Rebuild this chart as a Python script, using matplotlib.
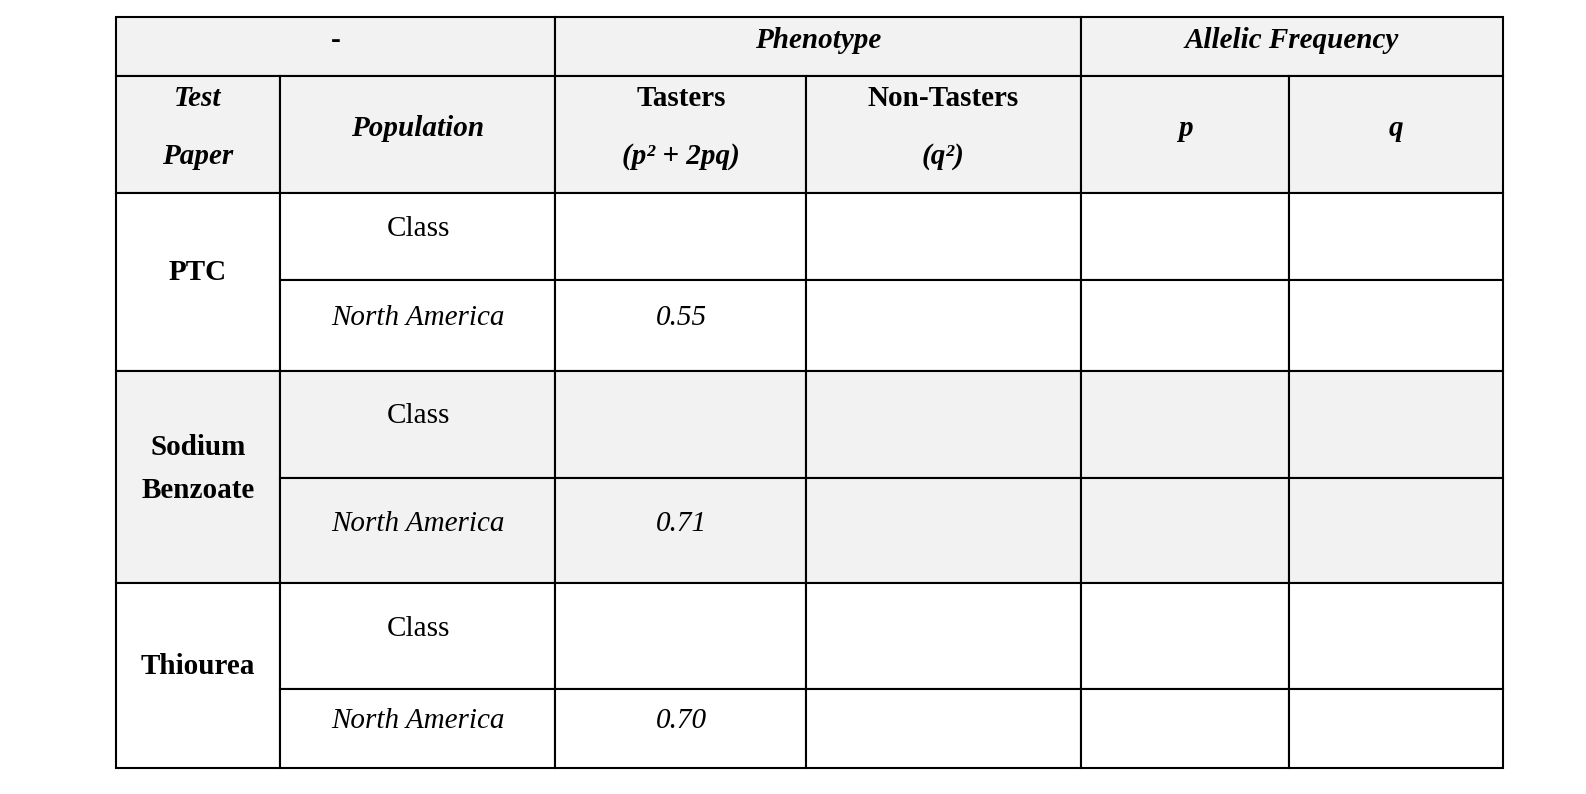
import matplotlib
matplotlib.use("Agg")
import matplotlib.pyplot as plt
from matplotlib.patches import Rectangle

test_papers = ["PTC", "Sodium\nBenzoate", "Thiourea"]
populations = ["Class", "North America"]
tasters = [["", "0.55"], ["", "0.71"], ["", "0.70"]]

cols = [116, 280, 555, 806, 1081, 1289, 1503]
rows = [17, 76, 193, 280, 371, 478, 583, 689, 768]
gray = "#f2f2f2"
FS = 21
fam = ["Liberation Serif", "DejaVu Serif"]

fig = plt.figure(figsize=(15.86, 7.94), dpi=100)
ax = fig.add_axes([0, 0, 1, 1])
ax.set_xlim(0, 1586); ax.set_ylim(794, 0); ax.axis("off")

def cell(x0, x1, y0, y1, fill):
    ax.add_patch(Rectangle((x0, y0), x1 - x0, y1 - y0, facecolor=fill, edgecolor="black", lw=1.5))

def txt(x, y, s, **kw):
    ax.text(x, y, s, ha="center", va="center", fontsize=FS, family=fam, **kw)

# header row 1
cell(cols[0], cols[2], rows[0], rows[1], gray)
cell(cols[2], cols[4], rows[0], rows[1], gray)
cell(cols[4], cols[6], rows[0], rows[1], gray)
txt((cols[0] + cols[2]) / 2, 40, "-", weight="bold")
txt((cols[2] + cols[4]) / 2, 40, "Phenotype", weight="bold", style="italic")
txt((cols[4] + cols[6]) / 2, 40, "Allelic Frequency", weight="bold", style="italic")

# header row 2
for i in range(6):
    cell(cols[i], cols[i + 1], rows[1], rows[2], gray)
txt(198, 99, "Test", weight="bold", style="italic")
txt(198, 156, "Paper", weight="bold", style="italic")
txt(418, 128, "Population", weight="bold", style="italic")
txt(681, 99, "Tasters", weight="bold")
txt(681, 156, "(p² + 2pq)", weight="bold", style="italic")
txt(943, 99, "Non-Tasters", weight="bold")
txt(943, 156, "(q²)", weight="bold", style="italic")
txt(1185, 128, "p", weight="bold", style="italic")
txt(1396, 128, "q", weight="bold", style="italic")

label_y = [[229, 318], [416, 524], [629, 721]]
group_y = [273, 469, 667]
for g, tp in enumerate(test_papers):
    fill = gray if g == 1 else "white"
    r0, r1, r2 = rows[2 + 2 * g], rows[3 + 2 * g], rows[4 + 2 * g]
    cell(cols[0], cols[1], r0, r2, fill)
    txt(198, group_y[g], tp, weight="bold", linespacing=1.75)
    for k, (ya, yb) in enumerate([(r0, r1), (r1, r2)]):
        for i in range(1, 6):
            cell(cols[i], cols[i + 1], ya, yb, fill)
        style = "normal" if populations[k] == "Class" else "italic"
        txt(418, label_y[g][k], populations[k], style=style)
        if tasters[g][k]:
            txt(681, label_y[g][k], tasters[g][k], style="italic")

fig.savefig("out.png", dpi=100)
